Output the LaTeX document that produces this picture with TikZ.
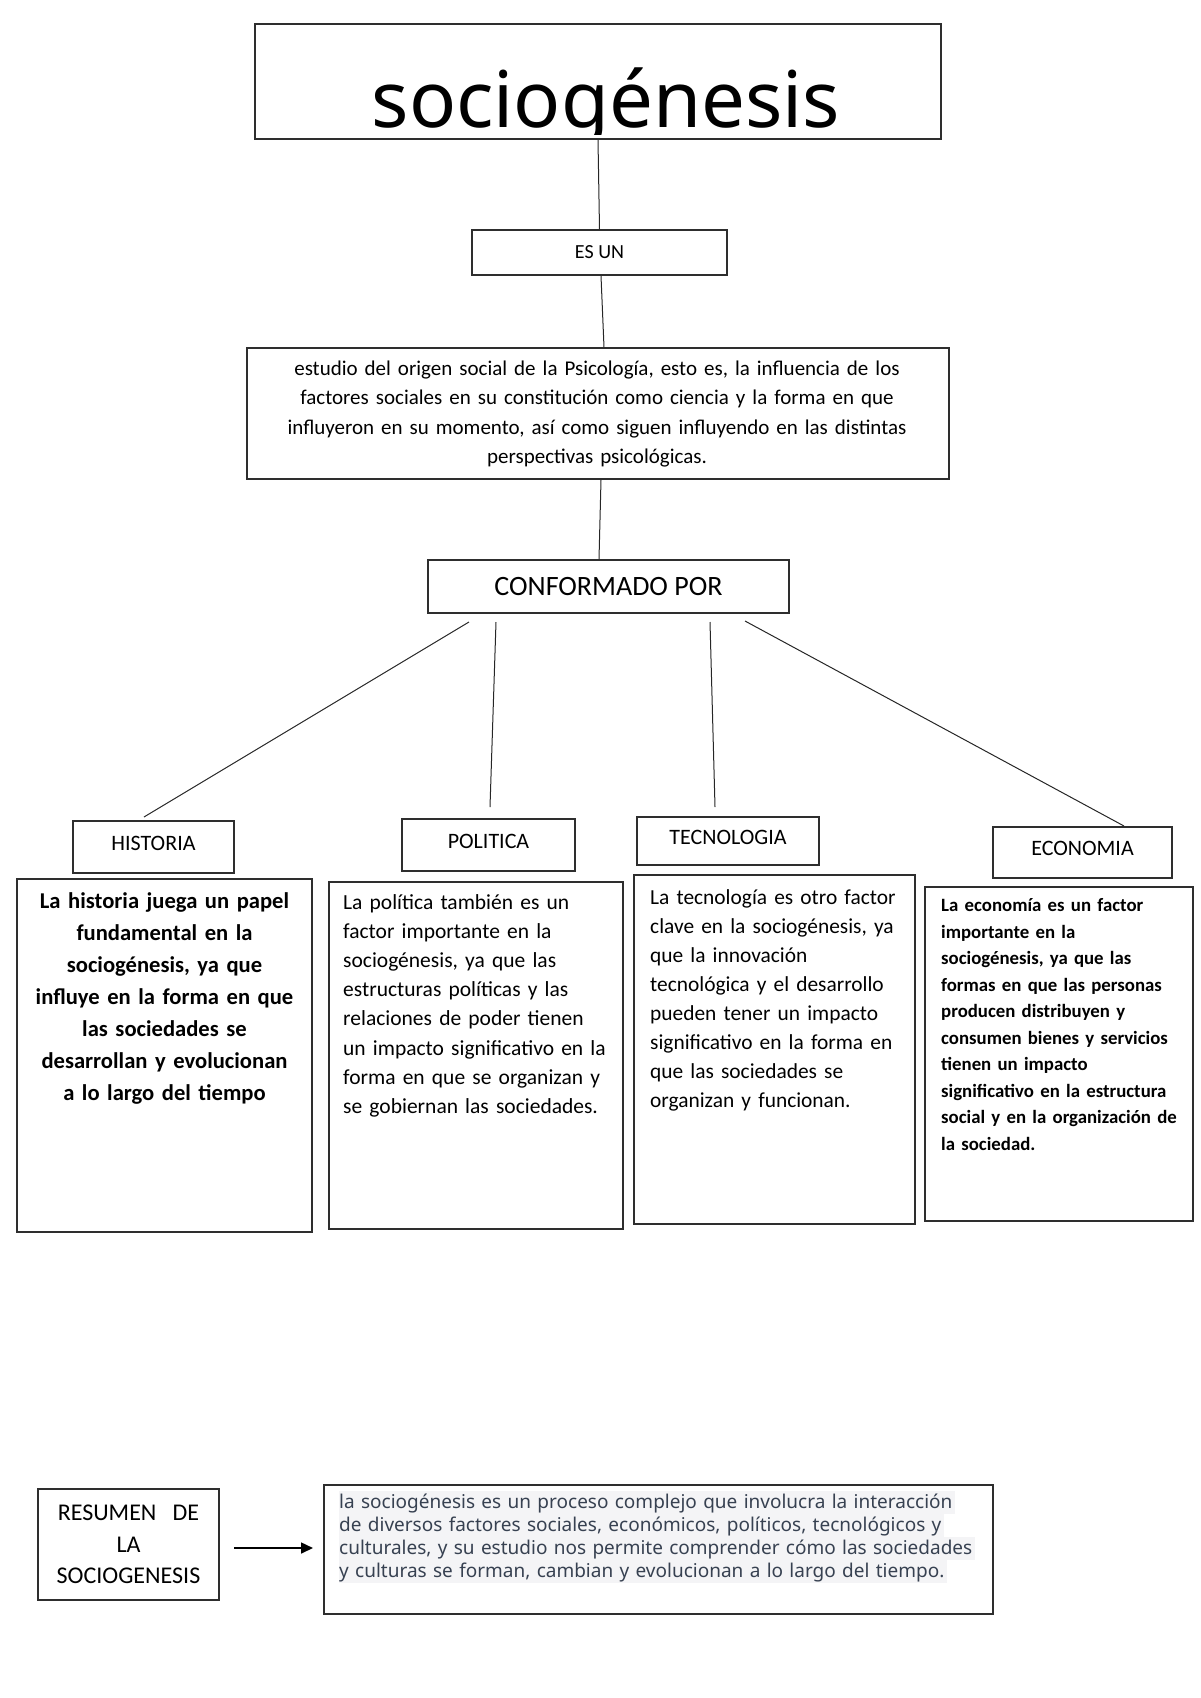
\documentclass[tikz,border=0pt]{standalone}
\usepackage{fontspec}
\setmainfont{Carlito}
\newfontfamily\titlefont{Noto Sans}
\usetikzlibrary{arrows.meta}
\definecolor{boxline}{HTML}{2E2E2E}
\definecolor{sumtext}{HTML}{374151}
\definecolor{sumbg}{HTML}{F4F4F6}
\newcommand{\hlline}[1]{{\setlength{\fboxsep}{0pt}\colorbox{sumbg}{\rule[-6pt]{0pt}{23pt}#1\hspace{3pt}}}}
\begin{document}
\begin{tikzpicture}[x=1pt,y=-1pt,
  box/.style={draw=boxline, line width=1.6pt, inner sep=0pt, align=center},
  labelbox/.style={box, font=\fontsize{22}{26}\selectfont, text depth=8pt},
  conn/.style={draw=black!85, line width=1pt},
  bodytext/.style={inner sep=0pt, anchor=base west, align=left},
  arrowline/.style={draw=black, line width=1.6pt, -{Triangle[length=12pt,width=11pt]}}]
\useasboundingbox (0,0) rectangle (1200,1698);
% title (text clipped inside its box, as in the reference)
\begin{scope}
  \clip (256,25) rectangle (940,134);
  \node[inner sep=0pt, anchor=base, font=\titlefont\fontsize{78}{90}\selectfont] (titletext) at (606,127) {sociogénesis};
\end{scope}
\node[box, minimum width=686pt, minimum height=115pt] (title) at (598,81.5) {};
\node[box, minimum width=255pt, minimum height=45pt, font=\fontsize{20}{24}\selectfont] (esun) at (599.5,252.5) {ES UN};
\node[box, minimum width=702pt, minimum height=131pt] (estudio) at (598,413.5) {};
\node[inner sep=0pt, anchor=base, text width=690pt, align=center, font=\fontsize{21}{29.3}\selectfont] (estudiotext) at (597,375.5)
 {estudio del origen social de la Psicología, esto es, la influencia de los\\
  factores sociales en su constitución como ciencia y la forma en que\\
  influyeron en su momento, así como siguen influyendo en las distintas\\
  perspectivas psicológicas.};
\node[box, minimum width=361pt, minimum height=53pt, font=\fontsize{28}{32}\selectfont] (conf) at (608.5,586.5) {CONFORMADO POR};
% category labels
\node[labelbox, minimum width=161pt, minimum height=52pt] (hist) at (153.5,847) {HISTORIA};
\node[labelbox, minimum width=173pt, minimum height=52pt] (pol) at (488.5,845) {POLITICA};
\node[labelbox, minimum width=182pt, minimum height=48pt] (tec) at (728,841) {TECNOLOGIA};
\node[labelbox, minimum width=179pt, minimum height=51pt] (eco) at (1082.5,852.5) {ECONOMIA};
% content boxes
\node[box, minimum width=295pt, minimum height=353pt] (histbox) at (164.5,1055.5) {};
\node[box, minimum width=294pt, minimum height=347pt] (polbox) at (476,1055.5) {};
\node[box, minimum width=281pt, minimum height=349pt] (tecbox) at (774.5,1049.5) {};
\node[box, minimum width=268pt, minimum height=334pt] (ecobox) at (1059,1054) {};
\node[inner sep=0pt, anchor=base, text width=290pt, align=center, font=\bfseries\fontsize{22.6}{32}\selectfont] (histtext) at (164.5,908.5)
 {La historia juega un papel\\ fundamental en la\\ sociogénesis, ya que\\ influye en la forma en que\\ las sociedades se\\ desarrollan y evolucionan\\ a lo largo del tiempo};
\node[bodytext, text width=280pt, font=\fontsize{21.5}{29.2}\selectfont] (poltext) at (343,909)
 {La política también es un\\ factor importante en la\\ sociogénesis, ya que las\\ estructuras políticas y las\\ relaciones de poder tienen\\ un impacto significativo en la\\ forma en que se organizan y\\ se gobiernan las sociedades.};
\node[bodytext, text width=265pt, font=\fontsize{21.4}{29}\selectfont] (tectext) at (650,904)
 {La tecnología es otro factor\\ clave en la sociogénesis, ya\\ que la innovación\\ tecnológica y el desarrollo\\ pueden tener un impacto\\ significativo en la forma en\\ que las sociedades se\\ organizan y funcionan.};
\node[bodytext, text width=250pt, font=\bfseries\fontsize{18.8}{26.5}\selectfont] (ecotext) at (941,911.5)
 {La economía es un factor\\ importante en la\\ sociogénesis, ya que las\\ formas en que las personas\\ producen distribuyen y\\ consumen bienes y servicios\\ tienen un impacto\\ significativo en la estructura\\ social y en la organización de\\ la sociedad.};
% summary
\node[box, minimum width=181pt, minimum height=111pt, font=\fontsize{24}{31.5}\selectfont] (resumen) at (128.5,1544.5) {RESUMEN\ \ \ DE\\ LA\\ SOCIOGENESIS};
\node[box, minimum width=669pt, minimum height=129pt] (summary) at (658.5,1549.5) {};
\node[bodytext, text width=655pt, text=sumtext, font=\titlefont\fontsize{19}{23}\selectfont] (summarytext) at (339,1508)
 {\hlline{la sociogénesis es un proceso complejo que involucra la interacción}\\
  \hlline{de diversos factores sociales, económicos, políticos, tecnológicos y}\\
  \hlline{culturales, y su estudio nos permite comprender cómo las sociedades}\\
  \hlline{y culturas se forman, cambian y evolucionan a lo largo del tiempo.}};
% connectors
\draw[conn] (title.south) -- (esun.north);
\draw[conn] ([xshift=1.5pt]esun.south) -- ([xshift=6pt]estudio.north);
\draw[conn] ([xshift=3pt]estudio.south) -- ([xshift=-9.5pt]conf.north);
\coordinate (b1s) at (469,622); \coordinate (b1e) at (144,817);
\coordinate (b2s) at (496,622); \coordinate (b2e) at (490,807);
\coordinate (b3s) at (710,622); \coordinate (b3e) at (715,807);
\coordinate (b4s) at (745,621); \coordinate (b4e) at (1124,826);
\draw[conn] (b1s) -- (b1e);
\draw[conn] (b2s) -- (b2e);
\draw[conn] (b3s) -- (b3e);
\draw[conn] (b4s) -- (b4e);
\coordinate (arS) at (234,1548); \coordinate (arE) at (313,1548);
\draw[arrowline] (arS) -- (arE);
\end{tikzpicture}
\end{document}
